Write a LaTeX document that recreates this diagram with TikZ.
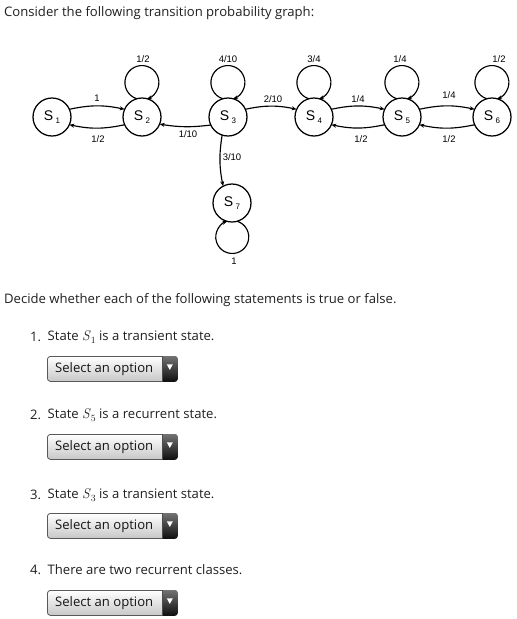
\documentclass[tikz,border=0pt]{standalone}
\usepackage{fontspec}
\setmainfont{Open Sans}
\newfontfamily\graphfont{Liberation Sans}
\newfontfamily\lmfont{Latin Modern Roman}
\usetikzlibrary{arrows.meta}

% state label: capital S with a small, lowered index
\newcommand\stname[1]{S\hspace{2.5pt}\raisebox{-3.5pt}{\fontsize{8}{8}\selectfont #1}}

% italic state symbol with index, as set in the questions
\newcommand\symS[1]{{\lmfont\fontsize{14}{16}\selectfont\itshape S\/}\raisebox{-2.6pt}{\lmfont\fontsize{9.5}{10}\selectfont #1}}

% self loops drawn as a circle touching the state circle
\newcommand\loopup[1]{\draw[arr] (#1.106) arc[start angle=252.4, end angle=-72.4, radius=17];}
\newcommand\loopdown[1]{\draw[arr] (#1.-74) arc[start angle=72.4, end angle=-252.4, radius=16.5];}

% one numbered question with its drop-down box
% #1 id, #2 number, #3 text y, #4 statement, #5 top of the box
\newcommand\quizitem[5]{%
  \node[txt] (n#1) at (30,-#3) {#2.};
  \node[txt] (t#1) at (47.5,-#3) {#4};
  \node[btn, anchor=north west] (b#1) at (47,-#5) {};
  \node[txt, text=black!92] (s#1) at ([xshift=8]b#1.west) {Select an option};
  \shade[top color=black!55, bottom color=black!95]
    ([xshift=-15.5]b#1.north east) -- ([xshift=-15.5]b#1.south east)
    [rounded corners=3] -- (b#1.south east) -- (b#1.north east)
    [sharp corners] -- cycle;
  \draw[black!70, line width=0.8] ([xshift=-15.5]b#1.north east) -- ([xshift=-15.5]b#1.south east);
  \fill[white] ([shift={(-11,4.5)}]b#1.east) -- ([shift={(-5,4.5)}]b#1.east)
    -- ([shift={(-8,-1)}]b#1.east) -- cycle;
}

\begin{document}
\begin{tikzpicture}[x=1pt,y=1pt,
  state/.style={circle, draw, line width=1.25pt, minimum size=38pt, inner sep=0pt,
    outer sep=0pt, font=\graphfont\fontsize{14}{14}\selectfont},
  arr/.style={line width=1.15pt, -{Stealth[length=5pt,width=4pt]}},
  prob/.style={font=\graphfont\fontsize{9.5}{10}\selectfont, inner sep=0pt},
  txt/.style={font=\fontsize{13.1}{16}\selectfont, text=black!88, inner sep=0pt, anchor=west},
  btn/.style={rounded corners=3, draw=black!65, line width=0.8pt, top color=white,
    bottom color=black!22, minimum width=130, minimum height=25, inner sep=0pt}
]
\useasboundingbox (0,0) rectangle (517,-619);

% heading
\node[txt] (head) at (4,-13) {Consider the following transition probability graph:};

% states
\node[state] (S1) at (52,-117)  {\stname{1}};
\node[state] (S2) at (142,-117) {\stname{2}};
\node[state] (S3) at (228,-117) {\stname{3}};
\node[state] (S4) at (314,-117) {\stname{4}};
\node[state] (S5) at (402,-117) {\stname{5}};
\node[state] (S6) at (492,-117) {\stname{6}};
\node[state] (S7) at (232,-203) {\stname{7}};

% transitions
\draw[arr] (S1.24) to[bend left=12] (S2.156);
\draw[arr] (S2.-156) to[bend left=12] (S1.-24);
\draw[arr] (S3.205) to[bend left=8] (S2.-22);
\draw[arr] (S3.24) to[bend left=12] (S4.156);
\draw[arr] (S4.24) to[bend left=12] (S5.156);
\draw[arr] (S5.-156) to[bend left=12] (S4.-24);
\draw[arr] (S5.24) to[bend left=12] (S6.156);
\draw[arr] (S6.-156) to[bend left=12] (S5.-24);
\draw[arr] (S3.252) to[bend right=10] (S7.118);
\loopup{S2}
\loopup{S3}
\loopup{S4}
\loopup{S5}
\loopup{S6}
\loopdown{S7}

% probabilities
\node[prob] (p12) at (97,-98)   {1};
\node[prob] (p21) at (98,-139)  {1/2};
\node[prob] (p32) at (188,-134) {1/10};
\node[prob] (p34) at (273,-99)  {2/10};
\node[prob] (p45) at (358,-99)  {1/4};
\node[prob] (p54) at (361,-139) {1/2};
\node[prob] (p56) at (449,-95)  {1/4};
\node[prob] (p65) at (449,-139) {1/2};
\node[prob] (p37) at (232,-157) {3/10};
\node[prob] (p22) at (143,-59)  {1/2};
\node[prob] (p33) at (228,-59)  {4/10};
\node[prob] (p44) at (314,-59)  {3/4};
\node[prob] (p55) at (400,-59)  {1/4};
\node[prob] (p66) at (499,-59)  {1/2};
\node[prob] (p77) at (234,-261) {1};

% questions
\node[txt] (ask) at (4,-300) {Decide whether each of the following statements is true or false.};
\quizitem{1}{1}{337}{State \symS{1} is a transient state.}{356}
\quizitem{2}{2}{415}{State \symS{5} is a recurrent state.}{434}
\quizitem{3}{3}{495}{State \symS{3} is a transient state.}{513}
\quizitem{4}{4}{570}{There are two recurrent classes.}{590}
\end{tikzpicture}
\end{document}
